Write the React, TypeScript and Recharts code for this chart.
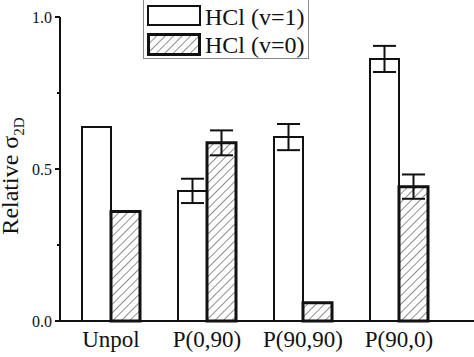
import React from "react";
import { BarChart, Bar, XAxis, YAxis, ErrorBar } from "recharts";

// values
const categories = ["Unpol", "P(0,90)", "P(90,90)", "P(90,0)"];
const v1Values = [0.638, 0.428, 0.605, 0.862];
const v1Errors = [null, 0.04, 0.043, 0.043];
const v0Values = [0.36, 0.586, 0.06, 0.442];
const v0Errors = [null, 0.041, null, 0.04];
const yTicks = [0, 0.25, 0.5, 0.75, 1.0];
const yTickLabels: Record<string, string> = { "0": "0.0", "0.5": "0.5", "1": "1.0" };

const legendItems = ["HCl (v=1)", "HCl (v=0)"];

const INK = "#111";
const SERIF = "'Liberation Serif', 'Times New Roman', serif";

const data = categories.map((name, i) => ({
	name,
	v1: v1Values[i],
	v1Err: v1Errors[i],
	v0: v0Values[i],
	v0Err: v0Errors[i],
}));

const HatchDef = ({ id }: { id: string }): React.ReactElement => (
	<pattern id={id} patternUnits="userSpaceOnUse" width={6} height={6} patternTransform="rotate(45)">
		<rect width={6} height={6} fill="#fff" />
		<line x1={0} y1={0} x2={0} y2={6} stroke="#444" strokeWidth={1.2} />
	</pattern>
);

// y ticks: long for labelled ones, short minor ticks at 0.25 / 0.75
const YTick = (props: any): React.ReactElement => {
	const { x, y, payload } = props;
	const label = yTickLabels[String(payload.value)];
	const len = label ? 5 : 3;
	return (
		<g>
			<line x1={x - len} y1={y} x2={x} y2={y} stroke={INK} strokeWidth={2} />
			{label && (
				<text x={x - 8} y={y + 5.5} textAnchor="end" fontSize={16} fontFamily={SERIF} fill={INK}>
					{label}
				</text>
			)}
		</g>
	);
};

const YLabel = (): React.ReactElement => (
	<text
		x={0}
		y={0}
		transform="translate(18,176) rotate(-90)"
		textAnchor="middle"
		fontSize={24}
		fontFamily={SERIF}
		fill={INK}
	>
		Relative σ
		<tspan fontSize={15} dy={6}>
			2D
		</tspan>
	</text>
);

const LegendBox = (): React.ReactElement => (
	<svg
		width={166}
		height={62}
		style={{ position: "absolute", left: 143, top: -2 }}
	>
		<defs>
			<HatchDef id="hatchLegend" />
		</defs>
		<rect x={0.5} y={0.5} width={165} height={60} fill="#fff" stroke="#888" strokeWidth={1} />
		<rect x={5} y={8} width={52} height={19} fill="#fff" stroke={INK} strokeWidth={2} />
		<rect x={5.5} y={36.5} width={51} height={20} fill="url(#hatchLegend)" stroke={INK} strokeWidth={3} />
		{legendItems.map((t, i) => (
			<text key={t} x={62} y={27 + i * 28} fontSize={24} fontFamily={SERIF} fill={INK}>
				{t}
			</text>
		))}
	</svg>
);

export default function App(): React.ReactElement {
	return (
		<div style={{ position: "absolute", left: 0, top: 0, width: 474, height: 357, background: "#fff", overflow: "hidden" }}>
			<BarChart
				width={474}
				height={357}
				data={data}
				margin={{ top: 17, right: 0, bottom: 0, left: 0 }}
				barGap={0}
				barSize={29}
			>
				<defs>
					<HatchDef id="hatch" />
				</defs>
				<XAxis
					dataKey="name"
					padding={{ left: 3, right: 27 }}
					height={36}
					axisLine={{ stroke: INK, strokeWidth: 2 }}
					tickLine={false}
					tickSize={0}
					tickMargin={10}
					interval={0}
					tick={{ fontSize: 23, fontFamily: SERIF, fill: INK }}
				/>
				<YAxis
					width={60}
					domain={[0, 1]}
					ticks={yTicks}
					axisLine={{ stroke: INK, strokeWidth: 2 }}
					tickLine={false}
					tickSize={0}
					tickMargin={0}
					tick={<YTick />}
					label={<YLabel />}
				/>
				<Bar dataKey="v1" fill="#fff" stroke={INK} strokeWidth={2} isAnimationActive={false}>
					{/* ErrorBar width is the half-width of the caps */}
					<ErrorBar dataKey="v1Err" width={11.5} stroke={INK} strokeWidth={2} isAnimationActive={false} />
				</Bar>
				<Bar dataKey="v0" fill="url(#hatch)" stroke={INK} strokeWidth={3} isAnimationActive={false}>
					<ErrorBar dataKey="v0Err" width={11.5} stroke={INK} strokeWidth={2} isAnimationActive={false} />
				</Bar>
			</BarChart>
			<LegendBox />
		</div>
	);
}
